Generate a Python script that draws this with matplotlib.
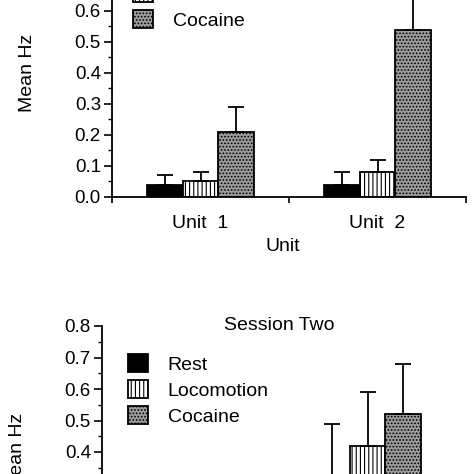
import matplotlib
matplotlib.use('Agg')
import matplotlib.pyplot as plt
from matplotlib.patches import Patch
import numpy as np

plt.rcParams['font.family'] = ['Liberation Sans', 'DejaVu Sans']
plt.rcParams['hatch.linewidth'] = 0.8

# ---- data ----
units = ['Unit  1', 'Unit  2']
conditions = ['Rest', 'Locomotion', 'Cocaine']

s1_rest = [0.04, 0.04]
s1_rest_err = [0.03, 0.04]
s1_loco = [0.05, 0.08]
s1_loco_err = [0.03, 0.04]
s1_coc = [0.21, 0.54]
s1_coc_err = [0.08, 0.18]

s2_rest = [0.10, 0.30]
s2_rest_err = [0.06, 0.19]
s2_loco = [0.14, 0.42]
s2_loco_err = [0.07, 0.17]
s2_coc = [0.22, 0.52]
s2_coc_err = [0.10, 0.16]

yticks = [0.0, 0.1, 0.2, 0.3, 0.4, 0.5, 0.6, 0.7, 0.8]

# ---- styles ----
COC_GRAY = '#9c9c9c'
styles = [
    dict(facecolor='black', edgecolor='black'),
    dict(facecolor='white', edgecolor='black', hatch='||||'),
    dict(facecolor=COC_GRAY, edgecolor='black', hatch='.....'),
]

W, H = 474, 474
fig = plt.figure(figsize=(W / 100, H / 100), dpi=100)
ax1 = fig.add_axes([112 / W, 1 - 197 / H, 354 / W, 248 / H])
ax2 = fig.add_axes([102 / W, 1 - 578 / H, 354 / W, 252 / H])

centers = np.array([0.5, 1.5])
offsets = [-0.2, 0.0, 0.2]
width = 0.2


def draw(ax, series, errs):
    for i, (vals, err) in enumerate(zip(series, errs)):
        x = centers + offsets[i]
        ax.bar(x, vals, width=width, linewidth=1.3, zorder=2, **styles[i])
        ax.errorbar(x, vals, yerr=[np.zeros(len(err)), err], fmt='none',
                    ecolor='black', elinewidth=1.3, capsize=6, capthick=1.3,
                    zorder=3)
    ax.set_xlim(0, 2)
    ax.set_ylim(0, 0.8)
    ax.set_yticks(yticks)
    ax.set_yticks(np.array(yticks[:-1]) + 0.05, minor=True)
    ax.yaxis.set_major_formatter(matplotlib.ticker.FormatStrFormatter('%.1f'))
    ax.set_xticks([0, 1, 2])
    ax.set_xticklabels(['', '', ''])
    ax.set_xticks(centers, minor=True)
    ax.set_xticklabels(units, minor=True, fontsize=14)
    ax.tick_params(axis='y', which='major', length=6, width=1.2,
                   direction='out', labelsize=13.5, pad=2)
    ax.tick_params(axis='y', which='minor', length=3, width=1.0,
                   direction='out')
    ax.tick_params(axis='x', which='major', length=4, width=1.2,
                   direction='out')
    ax.tick_params(axis='x', which='minor', length=0, pad=13)
    for s in ['top', 'right']:
        ax.spines[s].set_visible(False)
    for s in ['left', 'bottom']:
        ax.spines[s].set_linewidth(1.3)
    ax.text(-0.24, 0.5, 'Mean Hz', transform=ax.transAxes, rotation=90,
            ha='center', va='center', fontsize=14)


draw(ax1, [s1_rest, s1_loco, s1_coc], [s1_rest_err, s1_loco_err, s1_coc_err])
draw(ax2, [s2_rest, s2_loco, s2_coc], [s2_rest_err, s2_loco_err, s2_coc_err])

ax1.text(0.483, -0.165, 'Unit', transform=ax1.transAxes, ha='center',
         va='top', fontsize=14)
ax2.text(1.0, 0.8, 'Session Two', ha='center', va='center', fontsize=14)

handles = [Patch(linewidth=1.3, **st) for st in styles]
for ax, anchor in [(ax1, (0.059, 0.964)), (ax2, (0.0734, 0.889))]:
    ax.legend(handles, conditions, loc='upper left', bbox_to_anchor=anchor,
              frameon=False, borderpad=0, borderaxespad=0, fontsize=14,
              handlelength=1.05, handleheight=1.05, labelspacing=0.33,
              handletextpad=1.0)

fig.savefig('out.png', dpi=100)
